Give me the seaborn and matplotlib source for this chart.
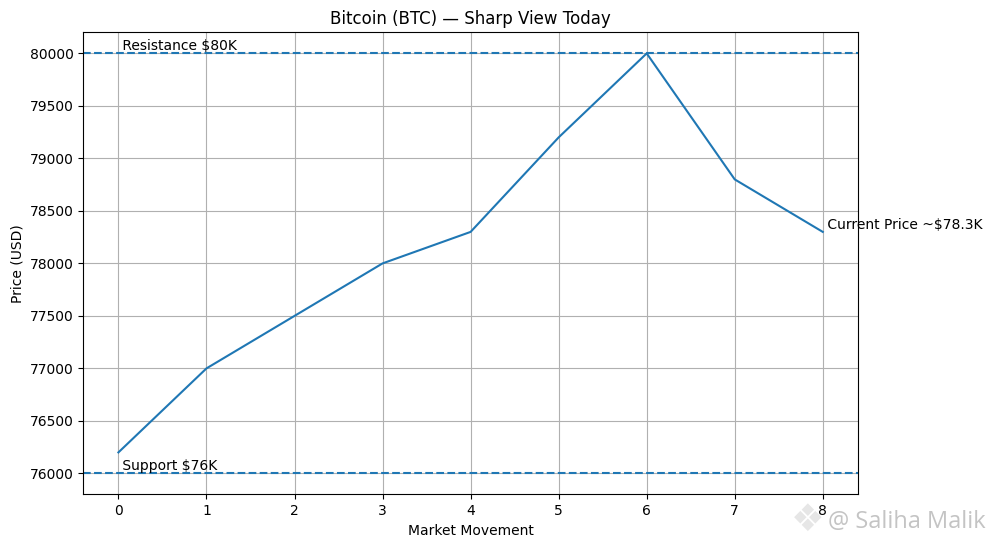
# btc_chart.py
# Bitcoin sharp view line chart

import pandas as pd
import matplotlib
matplotlib.use("Agg")
import matplotlib.pyplot as plt
import seaborn as sns

# --------------------------
# Data
# --------------------------
movement = [0, 1, 2, 3, 4, 5, 6, 7, 8]
price = [76200, 77000, 77500, 78000, 78300, 79200, 80000, 78800, 78300]
yticks = [76000, 76500, 77000, 77500, 78000, 78500, 79000, 79500, 80000]
resistance = 80000
support = 76000

df = pd.DataFrame({"Movement": movement, "Price": price})

# --------------------------
# Plot
# --------------------------
fig = plt.figure(figsize=(9.92, 5.47), dpi=100)
ax = fig.add_axes([83.2 / 992, 1 - 494.4 / 547, (858 - 83.2) / 992, (494.4 - 32.4) / 547])

sns.lineplot(x="Movement", y="Price", data=df, ax=ax, color="#1f77b4", errorbar=None)

ax.axhline(resistance, linestyle="--", color="#1f77b4")
ax.axhline(support, linestyle="--", color="#1f77b4")

ax.text(0, resistance, " Resistance $80K", va="bottom", fontsize=10)
ax.text(0, support, " Support $76K", va="bottom", fontsize=10)
ax.text(8, 78300, " Current Price ~$78.3K", va="bottom", fontsize=10, clip_on=False)

ax.set_yticks(yticks)
ax.grid(True)
ax.set_title("Bitcoin (BTC) — Sharp View Today")
ax.set_xlabel("Market Movement")
ax.set_ylabel("Price (USD)")

# faint watermark bottom right
fig.text(828 / 992, 1 - 522 / 547, "@ Saliha Malik", fontsize=17, family="Open Sans",
         color="#c4c4c4", va="center")
fig.text(808 / 992, 1 - 521 / 547, "\u2756", fontsize=27, color="#e6e6e6", va="center", ha="center")

fig.savefig("out.png", dpi=100)
